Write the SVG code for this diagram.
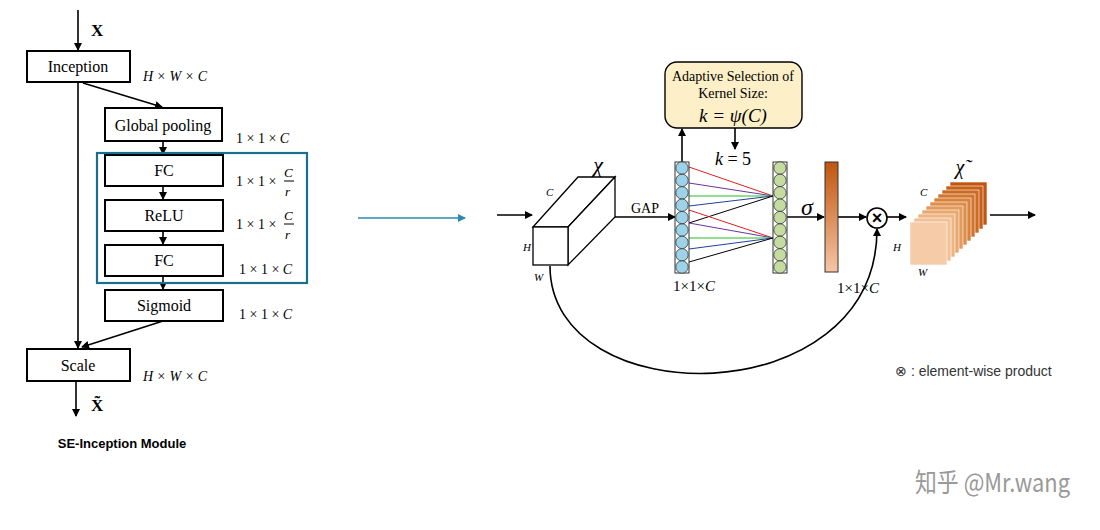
<svg xmlns="http://www.w3.org/2000/svg" width="1100" height="530" viewBox="0 0 1100 530">
<defs>
<marker id="a" markerWidth="8" markerHeight="8" refX="7" refY="4" orient="auto" markerUnits="userSpaceOnUse"><path d="M0,0 L8,4 L0,8 z" fill="#000"/></marker>
<marker id="ab" markerWidth="8" markerHeight="8" refX="7" refY="4" orient="auto" markerUnits="userSpaceOnUse"><path d="M0,0 L8,4 L0,8 z" fill="#2a8ab0"/></marker>
<linearGradient id="og" x1="0" y1="0" x2="0" y2="1"><stop offset="0" stop-color="#c0560f"/><stop offset="1" stop-color="#f6c5a5"/></linearGradient>
</defs>
<style>
.b{fill:#fff;stroke:#000;stroke-width:2}
.t{font-family:"Liberation Serif",serif;font-size:16px;text-anchor:middle}
.l{stroke:#000;stroke-width:1.6;fill:none}
.c1{fill:#9dd3e8;stroke:#333;stroke-width:0.8}
.c2{fill:#c5dca0;stroke:#333;stroke-width:0.8}
</style>
<rect width="1100" height="530" fill="#fff"/>
<g id="connectors">
<line class="l" x1="78" y1="10" x2="78" y2="50" marker-end="url(#a)"/>
<line class="l" x1="78" y1="82" x2="78" y2="348" marker-end="url(#a)"/>
<line class="l" x1="83" y1="83" x2="162" y2="107" marker-end="url(#a)"/>
<line class="l" x1="163" y1="141" x2="163" y2="154" marker-end="url(#a)"/>
<line class="l" x1="163" y1="186" x2="163" y2="199" marker-end="url(#a)"/>
<line class="l" x1="163" y1="231" x2="163" y2="244" marker-end="url(#a)"/>
<line class="l" x1="163" y1="276" x2="163" y2="289" marker-end="url(#a)"/>
<line class="l" x1="163" y1="321" x2="82" y2="347" marker-end="url(#a)"/>
<line class="l" x1="76" y1="381" x2="76" y2="416" marker-end="url(#a)"/>
<line x1="358" y1="218" x2="465" y2="218" stroke="#2a8ab0" stroke-width="1.6" marker-end="url(#ab)"/>
<line class="l" x1="497" y1="215" x2="532" y2="215" marker-end="url(#a)"/>
<line class="l" x1="615" y1="217" x2="675" y2="217" marker-end="url(#a)"/>
<line class="l" x1="682" y1="162" x2="682" y2="129" marker-end="url(#a)"/>
<line class="l" x1="735" y1="128" x2="735" y2="149" marker-end="url(#a)"/>
<line class="l" x1="787" y1="217" x2="824" y2="217" marker-end="url(#a)"/>
<line class="l" x1="838" y1="217" x2="866" y2="217" marker-end="url(#a)"/>
<line class="l" x1="887" y1="217" x2="906" y2="217" marker-end="url(#a)"/>
<line class="l" x1="990" y1="215" x2="1035" y2="215" marker-end="url(#a)"/>
<path class="l" d="M550,266 C550,415 877,415 877,229" marker-end="url(#a)"/>
<g stroke-width="1">
<line x1="689" y1="167" x2="773" y2="196" stroke="#e02020"/>
<line x1="689" y1="183" x2="773" y2="196" stroke="#7030a0"/>
<line x1="689" y1="196" x2="773" y2="196" stroke="#20c020"/>
<line x1="689" y1="206" x2="773" y2="196" stroke="#2040a0"/>
<line x1="689" y1="223" x2="773" y2="196" stroke="#000"/>
<line x1="689" y1="210" x2="773" y2="238" stroke="#e02020"/>
<line x1="689" y1="223" x2="773" y2="238" stroke="#7030a0"/>
<line x1="689" y1="238" x2="773" y2="238" stroke="#20c020"/>
<line x1="689" y1="249" x2="773" y2="238" stroke="#2040a0"/>
<line x1="689" y1="262" x2="773" y2="238" stroke="#000"/>
</g>
</g>
<g id="inception"><rect class="b" x="27" y="51" width="103" height="31"/><text class="t" x="78" y="72">Inception</text></g>
<g id="gpool"><rect class="b" x="105" y="108" width="117" height="33"/><text class="t" x="163" y="131">Global pooling</text></g>
<g id="fc1"><rect class="b" x="105" y="155" width="118" height="31"/><text class="t" x="164" y="176">FC</text></g>
<g id="relu"><rect class="b" x="105" y="200" width="118" height="31"/><text class="t" x="164" y="221">ReLU</text></g>
<g id="fc2"><rect class="b" x="105" y="245" width="118" height="31"/><text class="t" x="164" y="266">FC</text></g>
<g id="sigmoid"><rect class="b" x="105" y="290" width="118" height="31"/><text class="t" x="164" y="311">Sigmoid</text></g>
<g id="scale"><rect class="b" x="27" y="349" width="103" height="32"/><text class="t" x="78" y="371">Scale</text></g>
<g id="excite"><rect x="97" y="153" width="210" height="130" fill="none" stroke="#1a6e8e" stroke-width="2.2"/></g>
<g id="left-labels" font-family="Liberation Serif,serif" font-size="14">
<text x="91" y="36" font-weight="bold" font-size="17">X</text>
<text x="91" y="411" font-weight="bold" font-size="17">X̃</text>
<text x="143" y="81" font-style="italic">H × W × C</text>
<text x="143" y="381" font-style="italic">H × W × C</text>
<text x="236" y="143">1 × 1 × <tspan font-style="italic">C</tspan></text>
<text x="236" y="186">1 × 1 ×</text><text x="284" y="177" font-style="italic" font-size="13">C</text><line x1="284" y1="181" x2="294" y2="181" stroke="#000"/><text x="285" y="196" font-style="italic" font-size="13">r</text>
<text x="236" y="229">1 × 1 ×</text><text x="284" y="220" font-style="italic" font-size="13">C</text><line x1="284" y1="224" x2="294" y2="224" stroke="#000"/><text x="285" y="239" font-style="italic" font-size="13">r</text>
<text x="239" y="274">1 × 1 × <tspan font-style="italic">C</tspan></text>
<text x="239" y="319">1 × 1 × <tspan font-style="italic">C</tspan></text>
<text x="122" y="448" font-family="Liberation Sans,sans-serif" font-weight="bold" font-size="13" text-anchor="middle">SE-Inception Module</text>
</g>
<g id="input-tensor" fill="#fff" stroke="#000" stroke-width="1.3">
<polygon points="533,227 578,177 615,177 568,227"/>
<polygon points="568,227 615,177 615,217 568,265"/>
<rect x="533" y="227" width="35" height="38"/>
</g>
<g id="selector"><rect x="665" y="62" width="137" height="66" rx="12" fill="#fdf0c8" stroke="#000" stroke-width="1.4"/>
<text x="733" y="81" font-family="Liberation Serif,serif" font-size="14" text-anchor="middle">Adaptive Selection of</text>
<text x="733" y="98" font-family="Liberation Serif,serif" font-size="14" text-anchor="middle">Kernel Size:</text>
<text x="733" y="122" font-family="Liberation Serif,serif" font-size="19" font-style="italic" text-anchor="middle">k = ψ(C)</text></g>
<g id="gap-vector"><rect x="675" y="162" width="14" height="111" fill="#fff" stroke="#333"/>
<circle class="c1" cx="682" cy="168" r="6.2"/><circle class="c1" cx="682" cy="180.4" r="6.2"/><circle class="c1" cx="682" cy="192.8" r="6.2"/><circle class="c1" cx="682" cy="205.2" r="6.2"/><circle class="c1" cx="682" cy="217.6" r="6.2"/><circle class="c1" cx="682" cy="230" r="6.2"/><circle class="c1" cx="682" cy="242.4" r="6.2"/><circle class="c1" cx="682" cy="254.8" r="6.2"/><circle class="c1" cx="682" cy="267" r="6.2"/></g>
<g id="conv-vector"><rect x="773" y="162" width="14" height="111" fill="#fff" stroke="#333"/>
<circle class="c2" cx="780" cy="168" r="6.2"/><circle class="c2" cx="780" cy="180.4" r="6.2"/><circle class="c2" cx="780" cy="192.8" r="6.2"/><circle class="c2" cx="780" cy="205.2" r="6.2"/><circle class="c2" cx="780" cy="217.6" r="6.2"/><circle class="c2" cx="780" cy="230" r="6.2"/><circle class="c2" cx="780" cy="242.4" r="6.2"/><circle class="c2" cx="780" cy="254.8" r="6.2"/><circle class="c2" cx="780" cy="267" r="6.2"/></g>
<g id="weights"><rect x="825" y="162" width="13" height="110" fill="url(#og)" stroke="#333"/></g>
<g id="product"><circle cx="877" cy="218" r="10" fill="#fff" stroke="#000" stroke-width="1.6"/><text x="877" y="224" font-size="18" font-family="Liberation Sans,sans-serif" font-weight="bold" text-anchor="middle">×</text></g>
<g id="output-tensor" stroke="#fff" stroke-width="0.6">
<rect x="950" y="182" width="37" height="43" fill="#c0560f"/>
<rect x="946" y="186" width="37" height="43" fill="#c65f18"/>
<rect x="942" y="190" width="37" height="43" fill="#cc6a22"/>
<rect x="938" y="194" width="37" height="43" fill="#d2752e"/>
<rect x="934" y="198" width="37" height="43" fill="#d8823c"/>
<rect x="930" y="202" width="37" height="43" fill="#de8e4c"/>
<rect x="926" y="206" width="37" height="43" fill="#e39b5e"/>
<rect x="922" y="210" width="37" height="43" fill="#e8a870"/>
<rect x="918" y="214" width="37" height="43" fill="#edb583"/>
<rect x="914" y="218" width="37" height="43" fill="#f1c096"/>
<rect x="910" y="222" width="37" height="43" fill="#f5cba8"/>
</g>
<g id="right-labels" font-family="Liberation Serif,serif" font-style="italic">
<text x="598" y="172" font-size="22" text-anchor="middle">χ</text>
<text x="546" y="196" font-size="11">C</text>
<text x="523" y="251" font-size="11">H</text>
<text x="534" y="281" font-size="11">W</text>
<text x="645" y="213" font-size="14" font-style="normal" text-anchor="middle">GAP</text>
<text x="733" y="165" font-size="18" text-anchor="middle">k <tspan font-style="normal">= 5</tspan></text>
<text x="807" y="215" font-size="24" text-anchor="middle">σ</text>
<text x="694" y="291" font-size="15" font-style="normal" text-anchor="middle">1×1×<tspan font-style="italic">C</tspan></text>
<text x="858" y="293" font-size="15" font-style="normal" text-anchor="middle">1×1×<tspan font-style="italic">C</tspan></text>
<text x="960" y="174" font-size="20" text-anchor="middle">χ̃</text>
<text x="920" y="196" font-size="11">C</text>
<text x="893" y="251" font-size="11">H</text>
<text x="918" y="276" font-size="11">W</text>
<text x="895" y="376" font-family="Liberation Sans,sans-serif" font-style="normal" font-size="14" fill="#333">⊗ : element-wise product</text>
<text x="915" y="492" font-family="Noto Sans CJK SC,sans-serif" font-style="normal" font-size="26" fill="#999" textLength="155" lengthAdjust="spacingAndGlyphs">知乎 @Mr.wang</text>
</g>
</svg>
